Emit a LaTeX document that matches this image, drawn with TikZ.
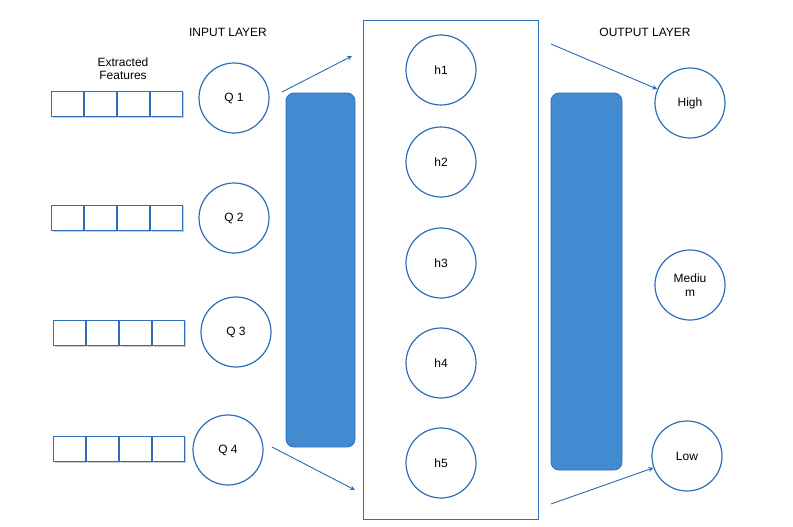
\documentclass[tikz,border=0pt]{standalone}
\usepackage{fontspec}
\setmainfont{Liberation Sans}
\definecolor{lineblue}{HTML}{2F6DB8}
\definecolor{barblue}{HTML}{428BD1}
\tikzset{
    neuron/.style={circle, draw=lineblue, line width=0.9pt, fill=white, minimum size=52.5pt, inner sep=0pt, font=\small, align=center},
    cell/.style={draw=lineblue, line width=0.9pt, fill=white, minimum width=24pt, minimum height=19pt, inner sep=0pt},
    bar/.style={draw=lineblue, fill=barblue, rounded corners=6pt, line width=0.6pt},
    e1/.style={draw=lineblue, ->, >=stealth, line width=0.7pt},
    lbl/.style={font=\small, align=center}
}
\newcommand{\featrow}[3]{%
  \foreach \k in {0,1,2,3} {
    \node[cell, drop shadow={shadow xshift=0.8pt, shadow yshift=-0.8pt, opacity=0.4}] (#1C\k) at ({#2+16.5+33*\k}, #3) {};
  }}
\usetikzlibrary{shadows}
\begin{document}
\begin{tikzpicture}[x=0.75pt, y=-0.75pt]
\useasboundingbox (0,0) rectangle (793,526);

% labels
\node[lbl] (inLbl) at (228,32) {INPUT LAYER};
\node[lbl] (outLbl) at (645,32) {OUTPUT LAYER};
\node[lbl, font=\small\linespread{0.9}\selectfont] (featLbl) at (123,69) {Extracted\\Features};

% feature rows
\featrow{F1}{51}{104}
\featrow{F2}{51}{218}
\featrow{F3}{53}{333}
\featrow{F4}{53}{449}

% input neurons
\node[neuron] (Q1) at (234,98) {Q 1};
\node[neuron] (Q2) at (234,218) {Q 2};
\node[neuron] (Q3) at (236,332) {Q 3};
\node[neuron] (Q4) at (228,450) {Q 4};

% bars and hidden box
\draw[bar] (286,93) rectangle (355,447);
\draw[bar] (551,93) rectangle (622,470);
\draw[draw=lineblue, line width=0.7pt] (363,20) rectangle (538,519);

% hidden neurons
\foreach \i/\y in {1/70,2/162,3/263,4/363,5/463} {
  \node[neuron] (h\i) at (441,\y) {h\i};
}

% output neurons
\node[neuron] (high) at (690,103) {High};
\node[neuron] (med) at (690,285) {Mediu\\m};
\node[neuron] (low) at (687,456) {Low};

% arrows
\coordinate (a1s) at (282,92);  \coordinate (a1e) at (352,56);
\coordinate (a2s) at (272,447); \coordinate (a2e) at (355,490);
\coordinate (a3s) at (551,44);  \coordinate (a4s) at (551,504);
\draw[e1] (a1s) -- (a1e);
\draw[e1] (a2s) -- (a2e);
\draw[e1] (a3s) -- (high);
\draw[e1] (a4s) -- (low);

\end{tikzpicture}
\end{document}
